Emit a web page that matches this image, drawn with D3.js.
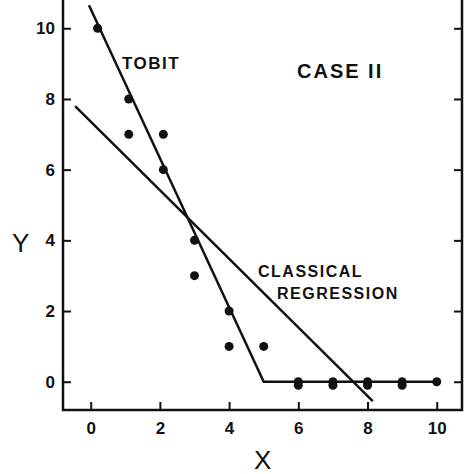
<!DOCTYPE html>
<html><head><meta charset="utf-8">
<script src="https://cdn.jsdelivr.net/npm/d3@7"></script>
<style>body{margin:0;background:#fff}text{font-family:"Liberation Sans",Arial,sans-serif;fill:#111}</style>
</head><body><div id="chart"></div>
<script>
// observed points
const px = [0.2, 1.1, 1.1, 2.1, 2.1, 3, 3, 4, 4, 5, 6, 6, 7, 7, 8, 8, 9, 9, 10];
const py = [10, 8, 7, 7, 6, 4, 3, 2, 1, 1, 0, -0.1, 0, -0.1, 0, -0.1, 0, -0.1, 0];
// fitted lines
const tobitX = [-0.05, 5, 10];
const tobitY = [10.65, 0, 0];
const olsX = [-0.45, 8.15];
const olsY = [7.8, -0.55];
const tickVals = [0, 2, 4, 6, 8, 10];

const W = 474, H = 474;
const svg = d3.select("#chart").append("svg").attr("width", W).attr("height", H);
const x = d3.scaleLinear().domain([-0.8, 10.73]).range([63, 462]);
const y = d3.scaleLinear().domain([-0.8, 10.8]).range([410, 0]);
const ink = "#111";

// frame
svg.append("rect").attr("x", 63).attr("y", -2).attr("width", 399).attr("height", 412)
    .attr("fill", "none").attr("stroke", ink).attr("stroke-width", 2.5);

const axStyle = g => {
    g.select(".domain").remove();
    g.selectAll("line").attr("stroke", ink).attr("stroke-width", 2);
    g.selectAll("text").style("font-size", "17px").style("font-weight", "bold");
};
svg.append("g").attr("transform", "translate(0,410)")
    .call(d3.axisBottom(x).tickValues(tickVals).tickSize(-8).tickPadding(12)).call(axStyle);
svg.append("g").attr("transform", "translate(63,0)")
    .call(d3.axisLeft(y).tickValues(tickVals).tickSize(-8).tickPadding(8)).call(axStyle);
svg.append("g").attr("transform", "translate(462,0)")
    .call(d3.axisRight(y).tickValues(tickVals).tickSize(-8).tickFormat("")).call(axStyle);

// lines
const line = d3.line().x(d => x(d[0])).y(d => y(d[1]));
svg.append("path").datum(tobitX.map((v, i) => [v, tobitY[i]]))
    .attr("d", line).attr("fill", "none").attr("stroke", ink).attr("stroke-width", 2.5);
svg.append("path").datum(olsX.map((v, i) => [v, olsY[i]]))
    .attr("d", line).attr("fill", "none").attr("stroke", ink).attr("stroke-width", 2.5);

// points
svg.selectAll("circle.pt").data(px.map((v, i) => [v, py[i]])).join("circle")
    .attr("cx", d => x(d[0])).attr("cy", d => y(d[1])).attr("r", 4.5).attr("fill", ink);

// labels
const lbl = (t, xx, yy, s, ls) => svg.append("text").attr("x", xx).attr("y", yy)
    .style("font-size", s + "px").style("font-weight", "bold")
    .style("letter-spacing", ls + "px").text(t);
lbl("TOBIT", 122, 69, 17, 1.5);
lbl("CASE II", 297, 78, 20, 2);
lbl("CLASSICAL", 258, 277, 16, 1.5);
lbl("REGRESSION", 277, 299, 16, 1.5);
svg.append("text").attr("x", 12).attr("y", 252).style("font-size", "26px").text("Y");
svg.append("text").attr("x", 254).attr("y", 469).style("font-size", "26px").text("X");
</script></body></html>
